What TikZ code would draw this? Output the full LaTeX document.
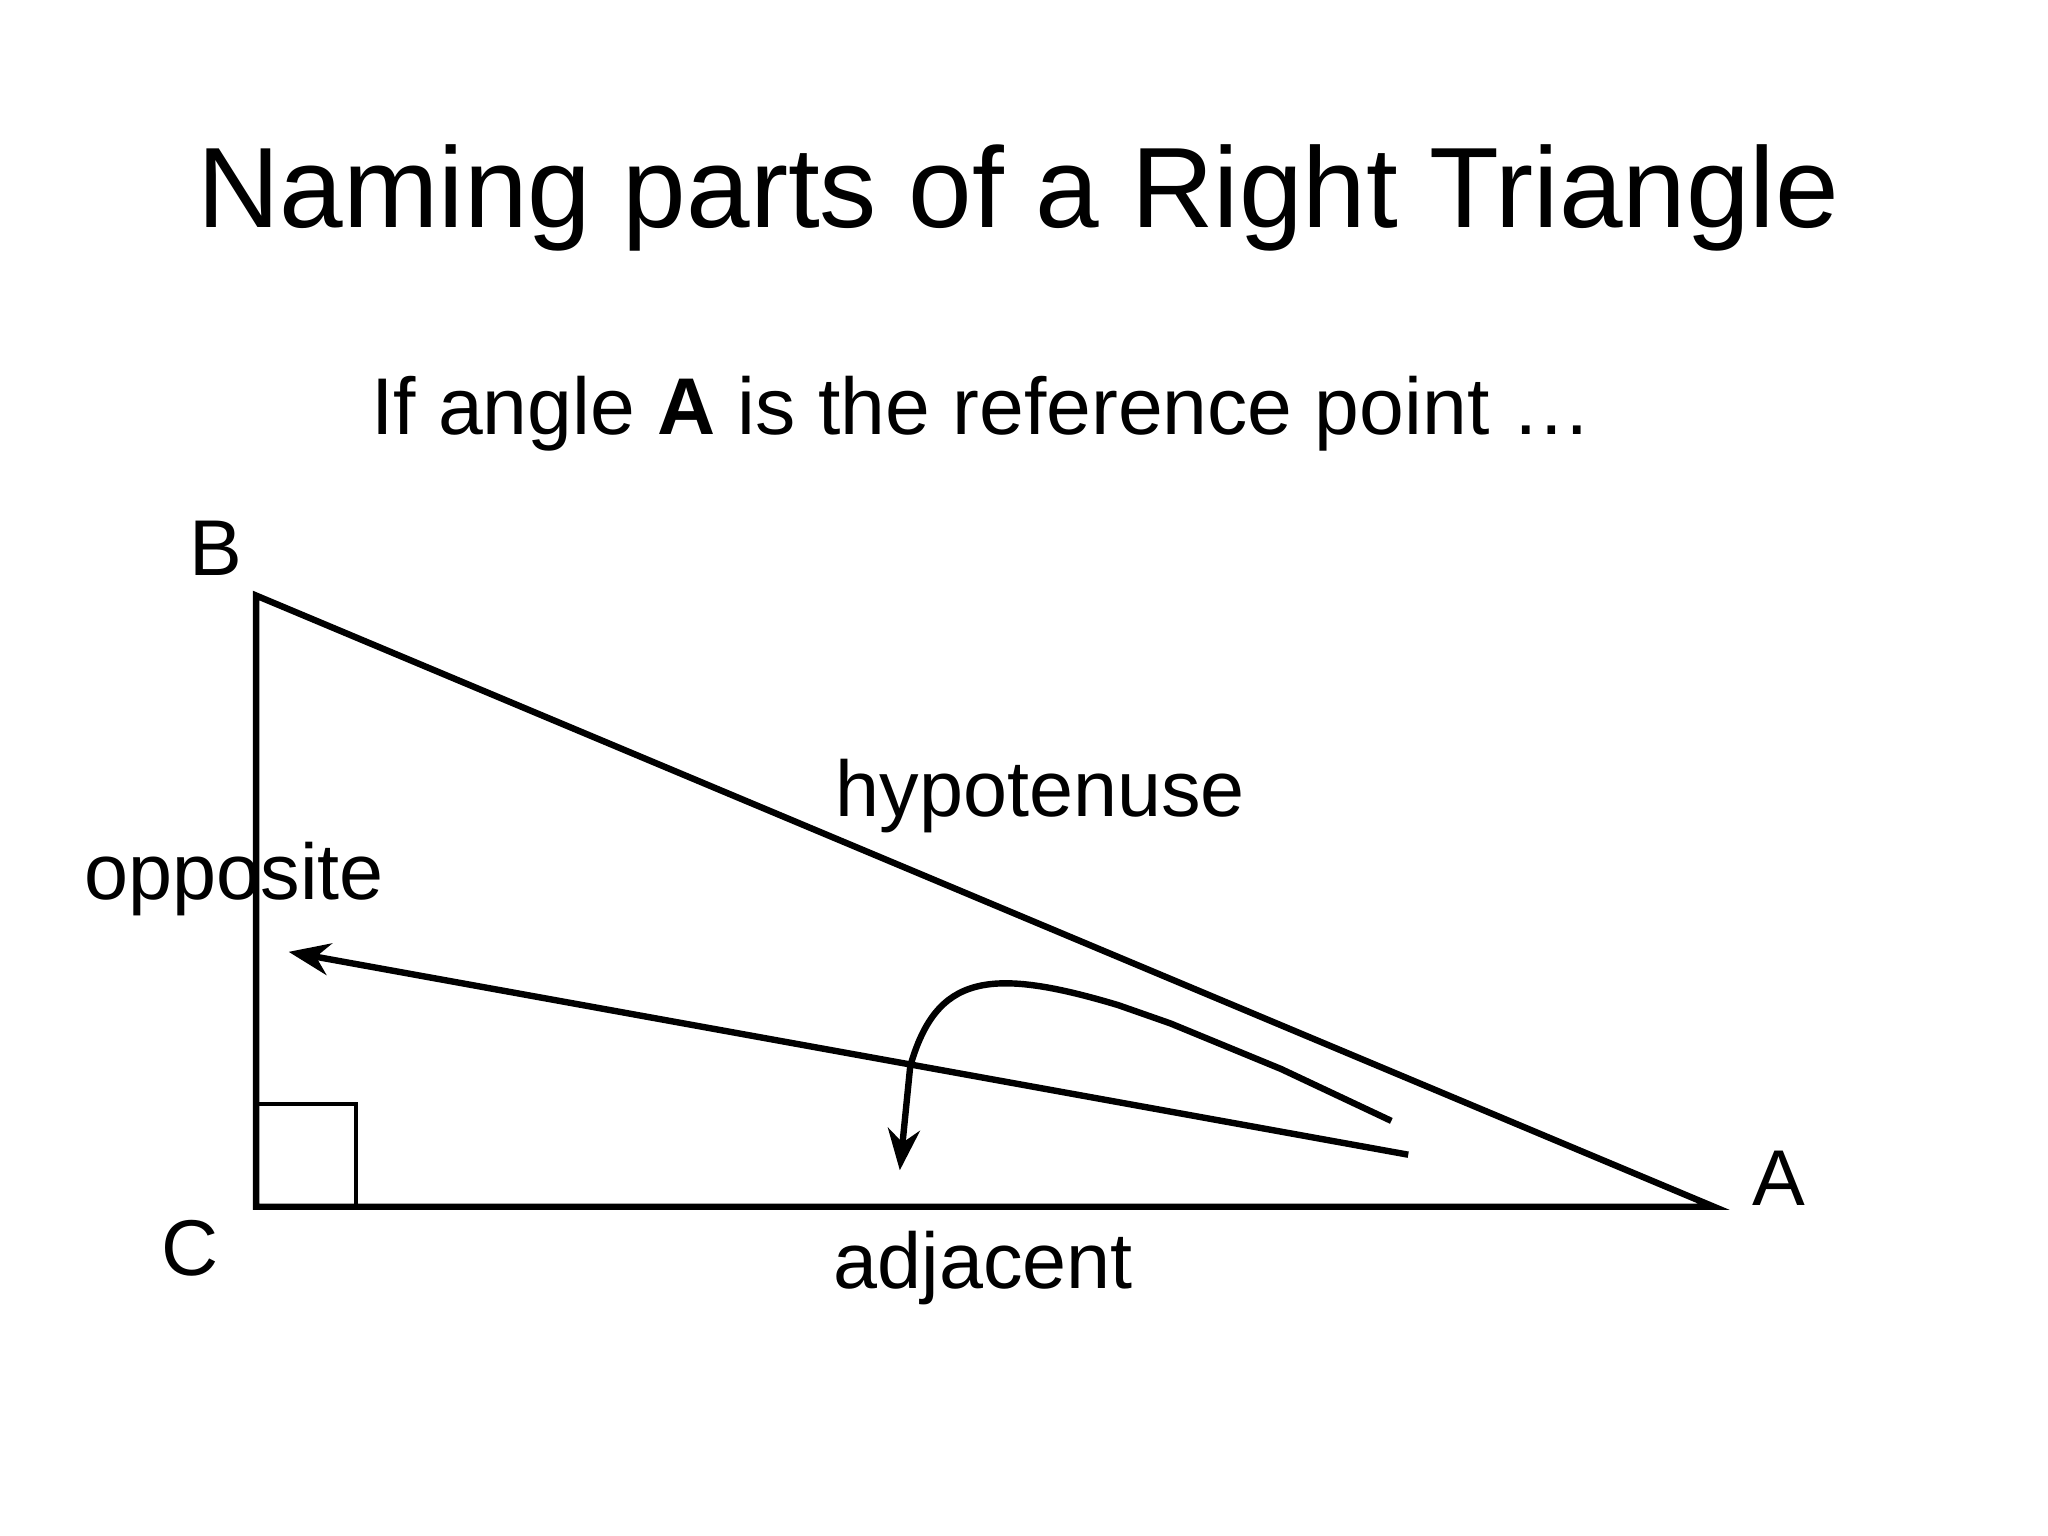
\documentclass[tikz,border=0pt]{standalone}
\usepackage{fontspec}
\setmainfont{Liberation Sans}
\usetikzlibrary{arrows.meta}
\begin{document}
\begin{tikzpicture}[x=0.01cm,y=-0.01cm,
  lbl/.style={inner sep=0pt,font=\fontsize{17.3pt}{20pt}\selectfont},
  thick line/.style={line width=1.4pt},
  arr/.style={thick line,-{Stealth[length=9pt,width=7pt]}}]
\useasboundingbox (0,0) rectangle (1575,1181);
\node[inner sep=0pt,font=\fontsize{25pt}{30pt}\selectfont] (title) at (783,152) {Naming parts of a Right Triangle};
\node[inner sep=0pt,font=\fontsize{17.6pt}{20pt}\selectfont] (sub) at (755,318) {If angle \textbf{A} is the reference point \dots};
\coordinate (B) at (197,458);
\coordinate (C) at (197,928);
\coordinate (A) at (1318,928);
\draw[thick line,line join=miter] (A) -- (B) -- (C) -- cycle;
\draw[line width=0.8pt] (197,849) -| (274,928);
\node[lbl] (lB) at (166,422) {B};
\node[lbl] (lC) at (146,960) {C};
\node[lbl] (lA) at (1368,906) {A};
\node[lbl] (hyp) at (800,612) {hypotenuse};
\node[lbl] (opp) at (180,676) {opposite};
\node[lbl] (adj) at (756,975) {adjacent};
\coordinate (s1) at (1083,888);
\coordinate (e1) at (222,732);
\draw[arr] (s1) -- (e1);
\coordinate (s2) at (1070,862);
\coordinate (e2) at (692,900);
\draw[arr,line join=round] (s2) -- (985,822) -- (900,787) -- (860,773) .. controls (760,743) and (720,750) .. (700,820) -- (697,850) -- (e2);
\end{tikzpicture}
\end{document}
